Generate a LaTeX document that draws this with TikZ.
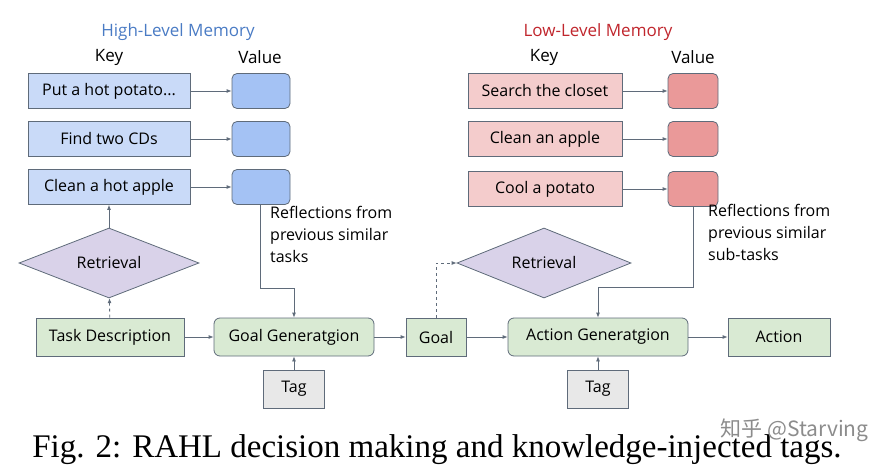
\documentclass[tikz,border=0pt]{standalone}
\usepackage{fontspec}
\setmainfont{Liberation Serif}
\setsansfont{Open Sans}
\newfontfamily\cjk{Noto Sans CJK SC}
\usetikzlibrary{shapes.geometric,positioning,arrows.meta}
\definecolor{keyblue}{HTML}{C9DAF8}
\definecolor{valblue}{HTML}{A4C2F4}
\definecolor{keyred}{HTML}{F4CCCC}
\definecolor{valred}{HTML}{EA9999}
\definecolor{stagegreen}{HTML}{D9EAD3}
\definecolor{retpurple}{HTML}{D9D2E9}
\definecolor{taggray}{HTML}{E8E8E8}
\definecolor{edgegray}{HTML}{5F6B7A}
\definecolor{titleblue}{HTML}{4A7BC4}
\definecolor{titlered}{HTML}{C0262D}
\tikzstyle{box}=[draw=edgegray, thick, font=\sffamily\fontsize{16}{19}\selectfont, inner sep=0pt]
\tikzstyle{key}=[box, minimum height=35pt]
\tikzstyle{value}=[box, rounded corners=5pt, minimum height=35pt]
\tikzstyle{stage}=[box, fill=stagegreen, minimum height=38pt]
\tikzstyle{retrieval}=[box, diamond, fill=retpurple, aspect=2.55, inner sep=0pt]
\tikzstyle{link}=[draw=edgegray, thick, -{Latex[length=5pt,width=4pt]}]
\tikzstyle{note}=[font=\sffamily\fontsize{16}{22}\selectfont, align=left, anchor=north west, inner sep=0pt]
\tikzstyle{head}=[font=\sffamily\fontsize{17}{20}\selectfont]
\begin{document}
\begin{tikzpicture}[x=1pt,y=-1pt]
            \useasboundingbox (0,0) rectangle (894,470);

            % high-level memory
            \node[head, text=titleblue] (hightitle) at (178,32) {High-Level Memory};
            \node[head] (hkeyhead) at (109,57) {Key};
            \node[head] (hvalhead) at (260,57) {Value};
            \begin{scope}[every node/.style={key, fill=keyblue, minimum width=162pt}]
                \node (hk1) at (109,91) {Put a hot potato...};
                \node (hk2) at (109,139) {Find two CDs};
                \node (hk3) at (109,187) {Clean a hot apple};
            \end{scope}
            \begin{scope}[every node/.style={value, fill=valblue, minimum width=58pt}]
                \node (hv1) at (261,91) {};
                \node (hv2) at (261,139) {};
                \node (hv3) at (261,187) {};
            \end{scope}
            \node[retrieval, minimum width=180pt, minimum height=70pt] (hret) at (109,263) {Retrieval};

            % low-level memory
            \node[head, text=titlered] (lowtitle) at (598,32) {Low-Level Memory};
            \node[head] (lkeyhead) at (544,57) {Key};
            \node[head] (lvalhead) at (693,57) {Value};
            \begin{scope}[every node/.style={key, fill=keyred, minimum width=154pt}]
                \node (lk1) at (545,91) {Search the closet};
                \node (lk2) at (545,139) {Clean an apple};
                \node (lk3) at (545,189) {Cool a potato};
            \end{scope}
            \begin{scope}[every node/.style={value, fill=valred, minimum width=50pt}]
                \node (lv1) at (693,91) {};
                \node (lv2) at (693,139) {};
                \node (lv3) at (693,189) {};
            \end{scope}
            \node[retrieval, minimum width=174pt, minimum height=70pt] (lret) at (544,263) {Retrieval};

            % decision pipeline
            \node[stage, minimum width=148pt] (task) at (110,337) {Task Description};
            \node[stage, rounded corners=6pt, minimum width=160pt] (goalgen) at (294,337) {Goal Generatgion};
            \node[stage, minimum width=60pt] (goal) at (436,337) {Goal};
            \node[stage, rounded corners=6pt, minimum width=180pt] (actgen) at (598,337) {Action Generatgion};
            \node[stage, minimum width=102pt] (action) at (779,337) {Action};
            \node[box, fill=taggray, minimum width=61pt, minimum height=38pt] (tag1) at (294,389) {Tag};
            \node[box, fill=taggray, minimum width=61pt, minimum height=38pt] (tag2) at (598,389) {Tag};

            \node[note] (hnote) at (270,206) {Reflections from\\previous similar\\tasks};
            \node[note] (lnote) at (708,204) {Reflections from\\previous similar\\sub-tasks};

            \coordinate (hbend) at (260,288);
            \coordinate (lbend) at (693,287);
            \coordinate (gbend) at (436,263);

            \begin{scope}[every path/.style={link}]
                \path (hk1) -- (hv1);
                \path (hk2) -- (hv2);
                \path (hk3) -- (hv3);
                \path (lk1) -- (lv1);
                \path (lk2) -- (lv2);
                \path (lk3) -- (lv3);
                \path (hret) -- (hk3);
                \path (task) -- (goalgen);
                \path (goalgen) -- (goal);
                \path (goal) -- (actgen);
                \path (actgen) -- (action);
                \path (tag1) -- (goalgen);
                \path (tag2) -- (actgen);
                \path (hv3.south -| hbend) -- (hbend) -| (goalgen.north);
                \path (lv3.south) -- (lbend) -| (actgen.north);
                \path[dashed] (task) -- (hret);
                \path[dashed] (goal.north) |- (gbend) -- (lret.west);
            \end{scope}

            \node[font=\fontsize{33}{36}\selectfont] (caption) at (437,450) {Fig. 2: RAHL decision making and knowledge-injected tags.};
            \node[font=\cjk\fontsize{21}{24}\selectfont, text=black!45, anchor=east] (mark) at (872,430) {知乎 @Starving};
        \end{tikzpicture}
\end{document}
